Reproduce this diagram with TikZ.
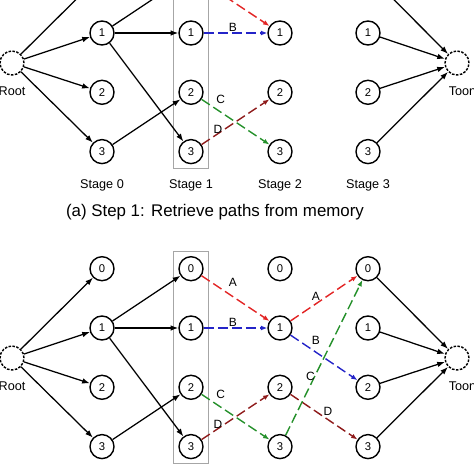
\documentclass[tikz,border=0pt]{standalone}
\usepackage{fontspec}
\setmainfont{Liberation Sans}
\usetikzlibrary{arrows.meta,positioning,fit}

\definecolor{pathred}{HTML}{E22424}
\definecolor{pathblue}{HTML}{2424C8}
\definecolor{pathgreen}{HTML}{24902A}
\definecolor{pathbrown}{HTML}{8E1A1A}

\tikzset{
	state/.style={circle, draw, line width=1pt, minimum size=0.6cm,
		inner sep=0pt, font=\fontsize{8}{9}\selectfont},
	terminal/.style={state, dash pattern=on 1.8pt off 1pt},
	edge/.style={line width=0.9pt, -{Latex[length=5.5pt,width=4pt]}},
	memory/.style={line width=1pt, dash pattern=on 7pt off 3pt,
		-{Latex[length=4.5pt,width=3.5pt]}},
	tag/.style={inner sep=0pt, text=black, font=\fontsize{8.5}{10}\selectfont},
	stagetext/.style={inner sep=0pt, font=\fontsize{9}{11}\selectfont},
	stagebox/.style={draw=gray!70, line width=0.6pt, inner sep=3.2pt},
}

\begin{document}
\begin{tikzpicture}[x=0.025cm, y=-0.025cm]

		\useasboundingbox (0,0) rectangle (474,474);
		\clip (0,0) rectangle (474,474);

		\foreach \p/\dy in {a/0, b/295} {
			% Root and Toon
			\node[terminal] (\p root) at (12, 63+\dy) {};
			\node[terminal] (\p toon) at (457, 63+\dy) {};
			\node[stagetext, below = 7.8pt of \p root] (\p rootname) {Root};
			\node[stagetext, below = 7.8pt of \p toon, xshift=3.9pt] (\p toonname) {Toon};

			% Stages
			\foreach \s/\x in {0/102, 1/191, 2/280, 3/368} {
				\foreach \r in {0,...,3}
					\node[state] (\p\s\r) at (\x, -26.3+59.3*\r+\dy) {\r};
				\node[stagetext, below = 10.4pt of \p\s3] (\p stage\s) {Stage \s};
			}
			\node[stagebox, fit=(\p10)(\p13)] (\p box) {};

			% Root to stage 0
			\foreach \r in {0,...,3}
				\draw[edge] (\p root) -- (\p0\r);
			% Stage 0 to stage 1
			\draw[edge] (\p01) -- (\p10);
			\draw[edge] (\p01) -- (\p11);
			\draw[edge] (\p01) -- (\p13);
			\draw[edge] (\p03) -- (\p12);
			% Stage 3 to Toon
			\foreach \r in {0,...,3}
				\draw[edge] (\p3\r) -- (\p toon);

			% Paths from memory
			\draw[memory, pathred] (\p10) -- node[tag, pos=.46, yshift=10pt] (\p A1) {A} (\p21);
			\draw[memory, pathblue] (\p11) -- node[tag, pos=.46, yshift=4.3pt] (\p B1) {B} (\p21);
			\draw[memory, pathgreen] (\p12) -- node[tag, pos=.28, yshift=9pt] (\p C1) {C} (\p23);
			\draw[memory, pathbrown] (\p13) -- node[tag, pos=.24, yshift=3.4pt] (\p D1) {D} (\p22);
		}

		% Step 2 extensions
		\draw[memory, pathred] (b21) -- node[tag, pos=.38, yshift=5pt] (bA2) {A} (b30);
		\draw[memory, pathblue] (b21) -- node[tag, pos=.38, yshift=8.7pt] (bB2) {B} (b32);
		\draw[memory, pathbrown] (b22) -- node[tag, pos=.56, yshift=6.1pt] (bD2) {D} (b33);
		\draw[memory, pathgreen] (b23) -- node[tag, pos=.38, xshift=-3.1pt] (bC2) {C} (b30);

		% Caption
		\node[inner sep=0pt, font=\fontsize{12}{14}\selectfont] (capa) at (215, 212)
			{(a) Step 1: Retrieve paths from memory};
	\end{tikzpicture}
\end{document}
